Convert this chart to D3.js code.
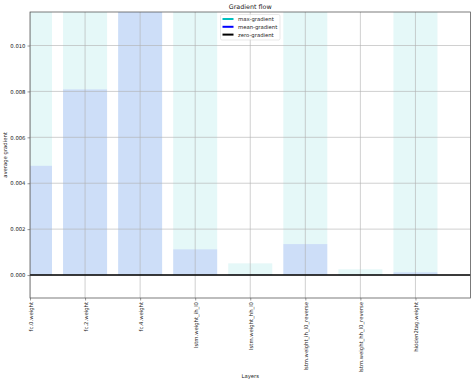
<!DOCTYPE html>
<html lang="en">
<head>
    <meta charset="UTF-8">
    <title>Gradient flow</title>
    <style>
        body { margin: 0; background: #fff; }
        svg text { font-family: "DejaVu Sans", sans-serif; fill: #222; }
    </style>
</head>
<body>
    <script src="https://cdn.jsdelivr.net/npm/d3@7"></script>
    <script>
        var width = 474;
        var height = 383;

        // layers and gradients
        var layers = ["fc.0.weight", "fc.2.weight", "fc.4.weight", "lstm.weight_ih_l0",
                      "lstm.weight_hh_l0", "lstm.weight_ih_l0_reverse",
                      "lstm.weight_hh_l0_reverse", "hidden2tag.weight"];
        var maxGrads = [0.031, 0.045, 0.062, 0.024, 0.00051, 0.027, 0.00025, 0.019];
        var aveGrads = [0.00476, 0.00809, 0.0125, 0.00112, 0.00003, 0.00135, 0.00001, 0.00012];
        var yTicks = [0, 0.002, 0.004, 0.006, 0.008, 0.010];
        var legendItems = [
            { label: "max-gradient", color: "#00bfbf" },
            { label: "mean-gradient", color: "#0000ff" },
            { label: "zero-gradient", color: "#000000" }
        ];

        // plot box (note: "top" is taken by window.top)
        var pLeft = 30, pRight = 470.5, pTop = 12, pBottom = 298;

        var svg = d3.select("body")
                    .append("svg")
                    .attr("width", width)
                    .attr("height", height);

        var x = d3.scaleLinear().domain([0, layers.length]).range([pLeft, pRight]);
        var y = d3.scaleLinear().domain([-0.001, 0.01146]).range([pBottom, pTop]);

        svg.append("clipPath").attr("id", "plot")
            .append("rect")
            .attr("x", pLeft).attr("y", pTop)
            .attr("width", pRight - pLeft).attr("height", pBottom - pTop);

        var plot = svg.append("g").attr("clip-path", "url(#plot)");

        // max bars, then mean bars on top
        plot.selectAll(".maxbar")
            .data(maxGrads)
            .enter()
            .append("rect")
            .attr("x", function(d, i) { return x(i - 0.4); })
            .attr("width", x(0.8) - x(0))
            .attr("y", function(d) { return y(d); })
            .attr("height", function(d) { return y(0) - y(d); })
            .attr("fill", "#00bfbf")
            .attr("fill-opacity", 0.1);

        plot.selectAll(".avebar")
            .data(aveGrads)
            .enter()
            .append("rect")
            .attr("x", function(d, i) { return x(i - 0.4); })
            .attr("width", x(0.8) - x(0))
            .attr("y", function(d) { return y(d); })
            .attr("height", function(d) { return y(0) - y(d); })
            .attr("fill", "#0000ff")
            .attr("fill-opacity", 0.1);

        // grid
        plot.selectAll(".vgrid")
            .data(d3.range(layers.length))
            .enter()
            .append("line")
            .attr("x1", function(d) { return x(d); })
            .attr("x2", function(d) { return x(d); })
            .attr("y1", pTop).attr("y2", pBottom)
            .attr("stroke", "#b0b0b0").attr("stroke-width", 0.6);

        plot.selectAll(".hgrid")
            .data(yTicks)
            .enter()
            .append("line")
            .attr("x1", pLeft).attr("x2", pRight)
            .attr("y1", function(d) { return y(d); })
            .attr("y2", function(d) { return y(d); })
            .attr("stroke", "#b0b0b0").attr("stroke-width", 0.6);

        // zero line
        plot.append("line")
            .attr("x1", pLeft).attr("x2", pRight)
            .attr("y1", y(0)).attr("y2", y(0))
            .attr("stroke", "#000").attr("stroke-width", 1.6);

        // axes
        var xAxis = d3.axisBottom(x)
            .tickValues(d3.range(layers.length))
            .tickFormat(function(d) { return layers[d]; })
            .tickSize(2.5).tickPadding(2);
        var gx = svg.append("g")
            .attr("transform", "translate(0," + pBottom + ")")
            .call(xAxis);
        gx.select(".domain").remove();
        gx.selectAll("line").attr("stroke", "#333").attr("stroke-width", 0.5);
        gx.selectAll("text")
            .attr("font-size", 5.3)
            .attr("text-anchor", "end")
            .attr("dy", null)
            .attr("transform", "translate(0,4) rotate(-90)")
            .attr("x", 0).attr("y", 2);

        var yAxis = d3.axisLeft(y)
            .tickValues(yTicks)
            .tickFormat(d3.format(".3f"))
            .tickSize(2.5).tickPadding(2);
        var gy = svg.append("g")
            .attr("transform", "translate(" + pLeft + ",0)")
            .call(yAxis);
        gy.select(".domain").remove();
        gy.selectAll("line").attr("stroke", "#333").attr("stroke-width", 0.5);
        gy.selectAll("text").attr("font-size", 5.3);

        // frame
        svg.append("rect")
            .attr("x", pLeft).attr("y", pTop)
            .attr("width", pRight - pLeft).attr("height", pBottom - pTop)
            .attr("fill", "none").attr("stroke", "#444").attr("stroke-width", 0.7);

        // labels
        svg.append("text")
            .attr("x", (pLeft + pRight) / 2).attr("y", 9)
            .attr("text-anchor", "middle").attr("font-size", 6.4)
            .text("Gradient flow");
        svg.append("text")
            .attr("x", (pLeft + pRight) / 2).attr("y", 378)
            .attr("text-anchor", "middle").attr("font-size", 5.3)
            .text("Layers");
        svg.append("text")
            .attr("transform", "translate(7," + ((pTop + pBottom) / 2) + ") rotate(-90)")
            .attr("text-anchor", "middle").attr("font-size", 5.3)
            .text("average gradient");

        // legend
        var legend = svg.append("g").attr("transform", "translate(220.5,14.5)");
        legend.append("rect")
            .attr("width", 59.5).attr("height", 25.5)
            .attr("rx", 1.5)
            .attr("fill", "#fff").attr("fill-opacity", 0.8)
            .attr("stroke", "#d0d0d0").attr("stroke-width", 0.5);
        var item = legend.selectAll(".item")
            .data(legendItems)
            .enter()
            .append("g")
            .attr("transform", function(d, i) { return "translate(0," + (4.5 + i * 7.8) + ")"; });
        item.append("line")
            .attr("x1", 2).attr("x2", 13)
            .attr("stroke", function(d) { return d.color; })
            .attr("stroke-width", 2);
        item.append("text")
            .attr("x", 17.5).attr("y", 1.9)
            .attr("font-size", 5.3)
            .text(function(d) { return d.label; });
    </script>
</body>
</html>
